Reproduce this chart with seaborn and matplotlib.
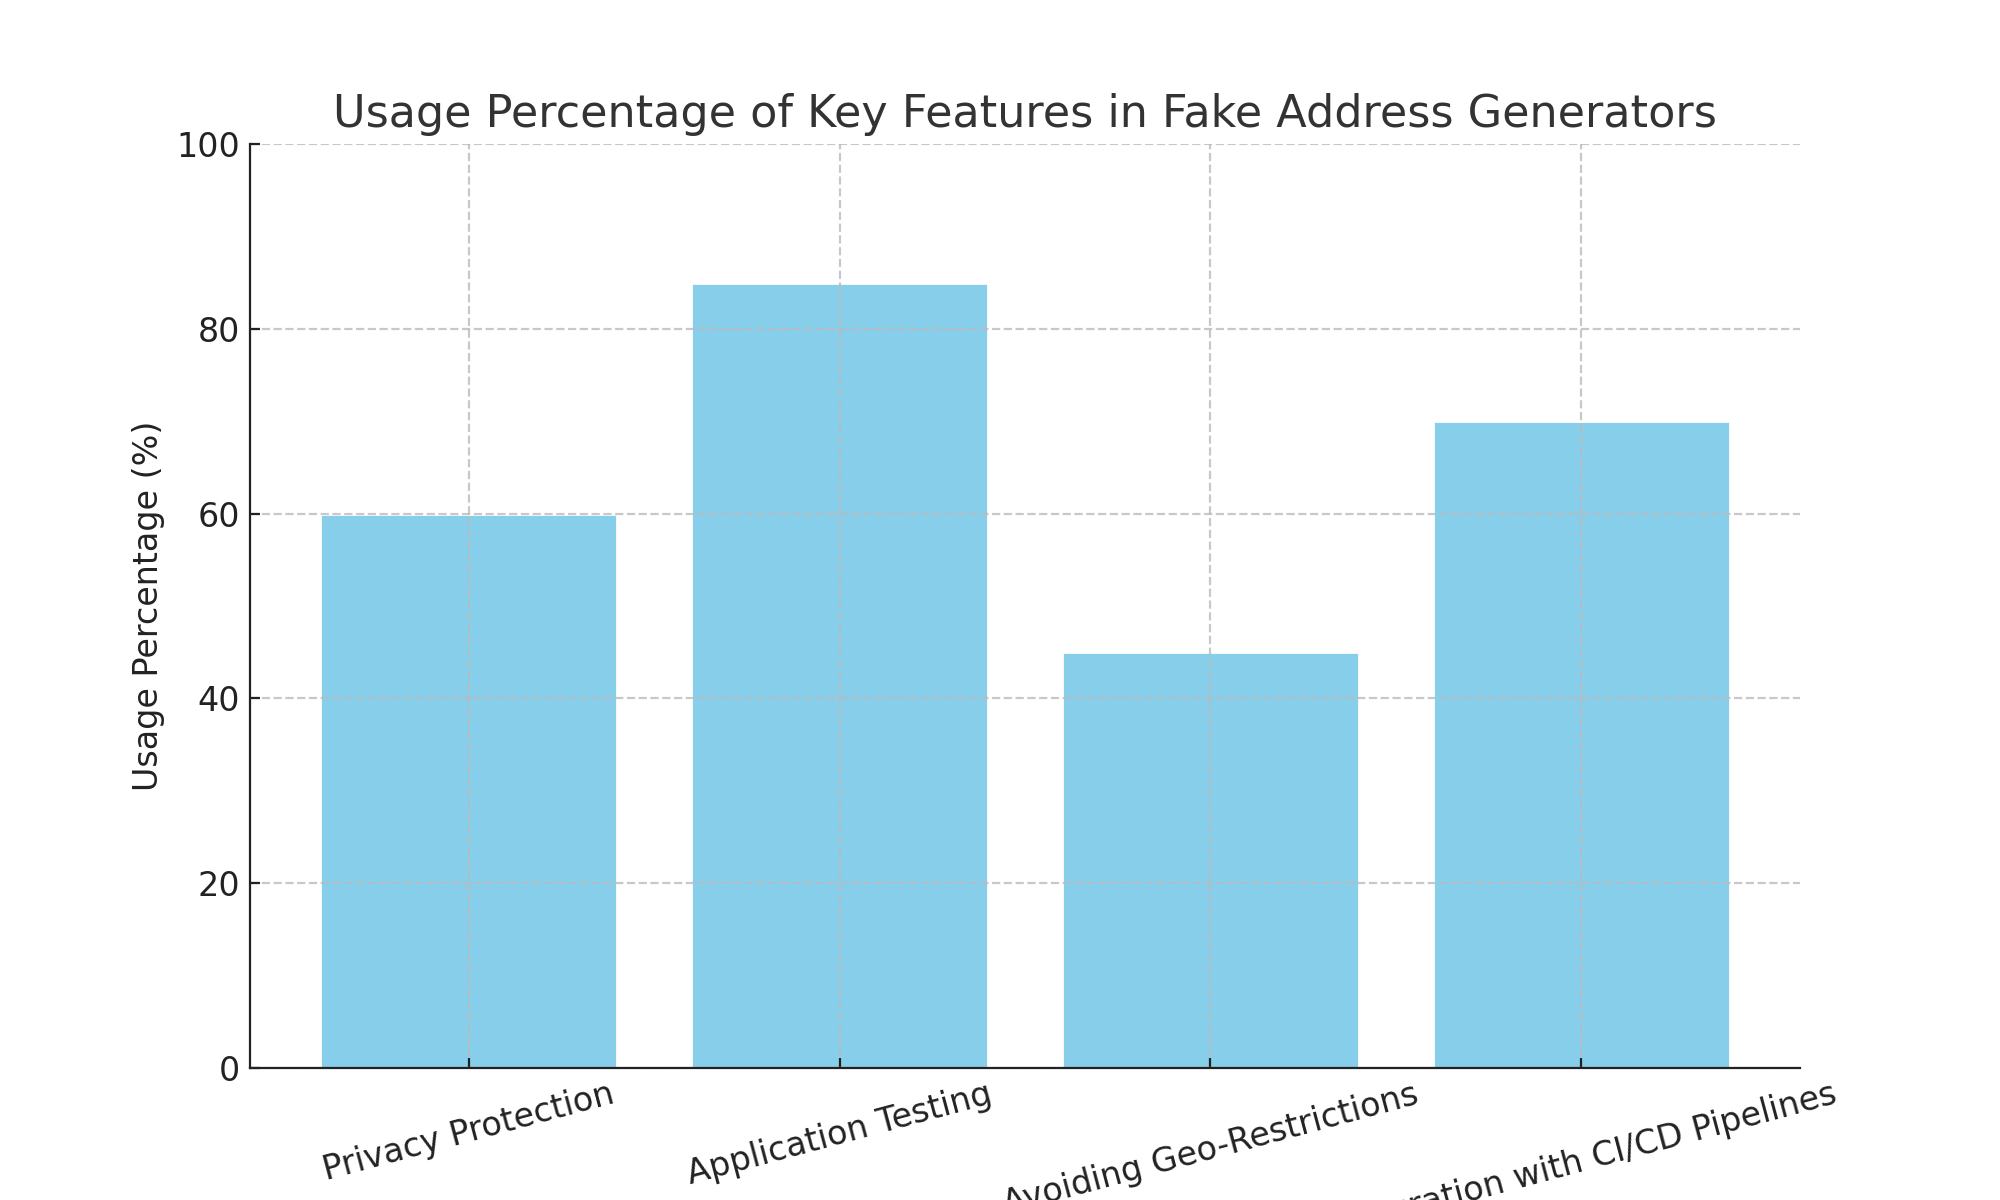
import seaborn as sns
import matplotlib.pyplot as plt
import pandas as pd

# chart data
features = ['Privacy Protection', 'Application Testing',
            'Avoiding Geo-Restrictions', 'Integration with CI/CD Pipelines']
usage = [60, 85, 45, 70]

df = pd.DataFrame({'Feature': features, 'Usage': usage})

sns.set_style('ticks')
plt.rcParams['font.family'] = ['DejaVu Sans']

fig = plt.figure(figsize=(10, 6), dpi=200)
ax = fig.add_subplot(111)

sns.barplot(data=df, x='Feature', y='Usage', color='skyblue',
            saturation=1, width=0.8, ax=ax)

ax.set_ylim(0, 100)
ax.set_xlim(-0.59, len(features) - 1 + 0.59)
ax.set_title('Usage Percentage of Key Features in Fake Address Generators',
             fontsize=16, color='#333333')
ax.set_xlabel('')
ax.set_ylabel('Usage Percentage (%)', fontsize=12, color='#222222')
ax.tick_params(axis='both', direction='in', length=3.5, width=0.8,
               labelsize=12, colors='#222222')
plt.setp(ax.get_xticklabels(), rotation=15)

# dashed grid drawn above the bars
ax.set_axisbelow(False)
for bar in ax.patches:
    bar.set_zorder(1)
ax.grid(True, linestyle='--', color='#bbbbbb', linewidth=0.8, alpha=0.8)
sns.despine(ax=ax)
for side in ['left', 'bottom']:
    ax.spines[side].set_color('#222222')
    ax.spines[side].set_zorder(5)

fig.savefig('out.png', dpi=200)
